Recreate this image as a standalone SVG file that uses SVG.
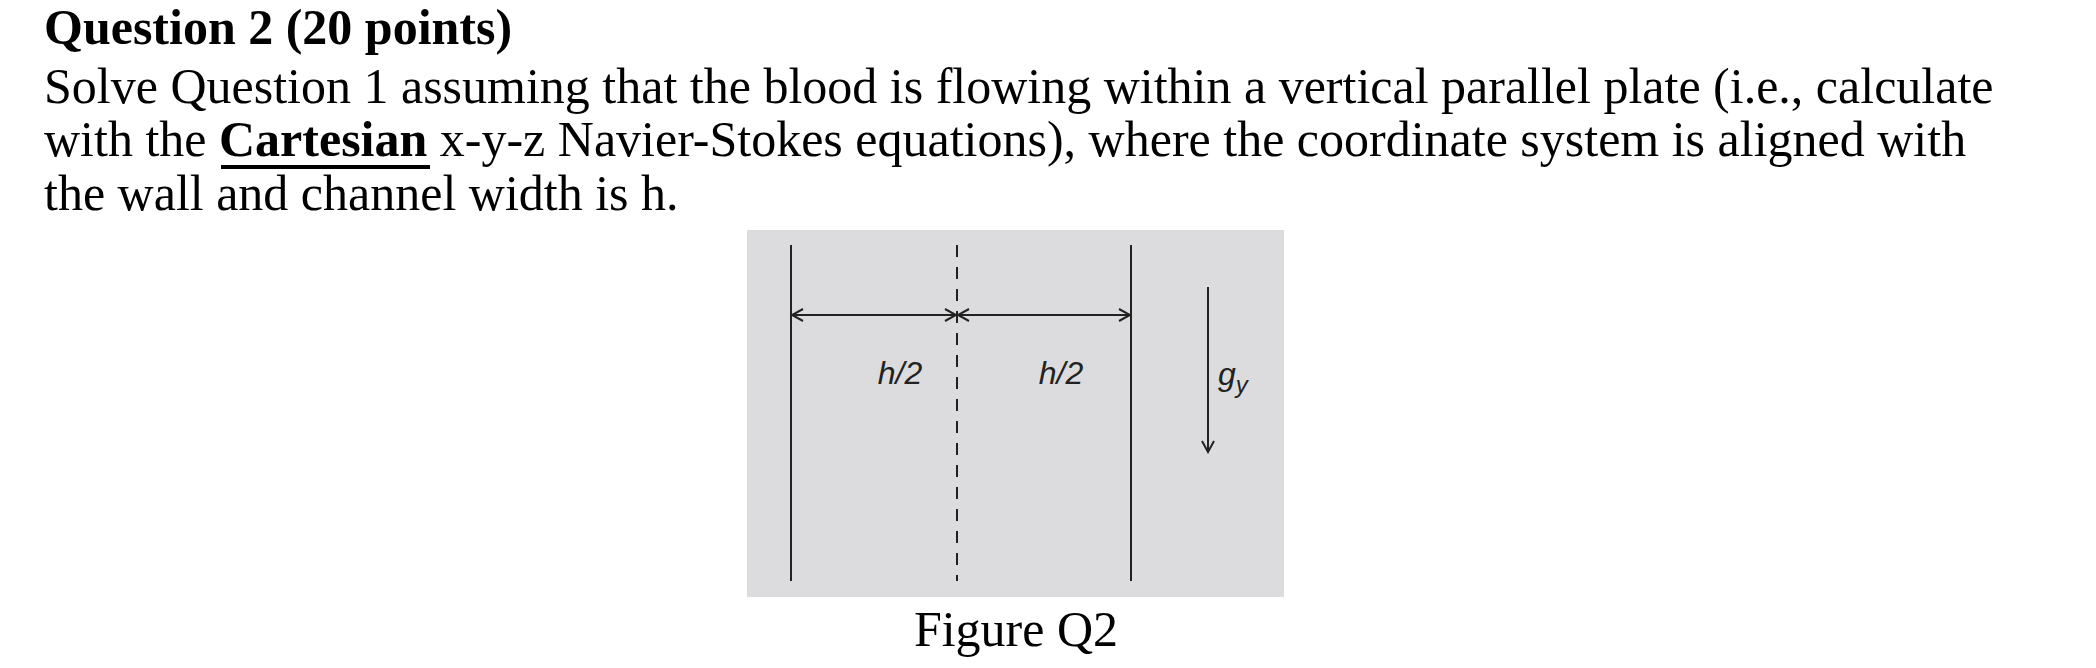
<svg xmlns="http://www.w3.org/2000/svg" width="2096" height="668" viewBox="0 0 2096 668">
<style>
.t{font-family:"Liberation Serif",serif;font-size:50px;fill:#000}
.s{font-family:"Liberation Sans",sans-serif;font-style:italic;font-size:32px;fill:#222}
.ln{stroke:#222;stroke-width:2;fill:none}
</style>
<defs>
<marker id="a" markerWidth="14" markerHeight="14" refX="12" refY="7" orient="auto-start-reverse" markerUnits="userSpaceOnUse">
<path d="M1,1 L12,7 L1,13" fill="none" stroke="#222" stroke-width="2"/>
</marker>
</defs>
<rect width="2096" height="668" fill="#fff"/>
<g id="text">
<text class="t" x="44" y="44" font-weight="bold">Question 2 (20 points)</text>
<text class="t" x="44" y="103">Solve Question 1 assuming that the blood is flowing within a vertical parallel plate (i.e., calculate</text>
<text class="t" x="44" y="156">with the <tspan font-weight="bold">Cartesian</tspan> x-y-z Navier-Stokes equations), where the coordinate system is aligned with</text>
<rect x="221" y="165" width="209" height="4" fill="#000"/>
<text class="t" x="44" y="210">the wall and channel width is h.</text>
</g>
<g id="figure">
<rect x="747" y="230" width="537" height="367" fill="#dcdcde"/>
<line class="ln" x1="791" y1="245" x2="791" y2="581"/>
<line class="ln" x1="1131" y1="245" x2="1131" y2="581"/>
<line class="ln" x1="957" y1="245" x2="957" y2="581" stroke-dasharray="12,10"/>
<text class="s" x="900" y="384" text-anchor="middle">h/2</text>
<text class="s" x="1061" y="384" text-anchor="middle">h/2</text>
<text class="s" x="1218" y="385">g<tspan font-size="24" dy="8">y</tspan></text>
<text class="t" x="1016" y="646" text-anchor="middle">Figure Q2</text>
</g>
<g id="connectors">
<line class="ln" x1="792" y1="315" x2="956" y2="315" marker-start="url(#a)" marker-end="url(#a)"/>
<line class="ln" x1="958" y1="315" x2="1130" y2="315" marker-start="url(#a)" marker-end="url(#a)"/>
<line class="ln" x1="1208" y1="287" x2="1208" y2="452" marker-end="url(#a)"/>
</g>
</svg>
